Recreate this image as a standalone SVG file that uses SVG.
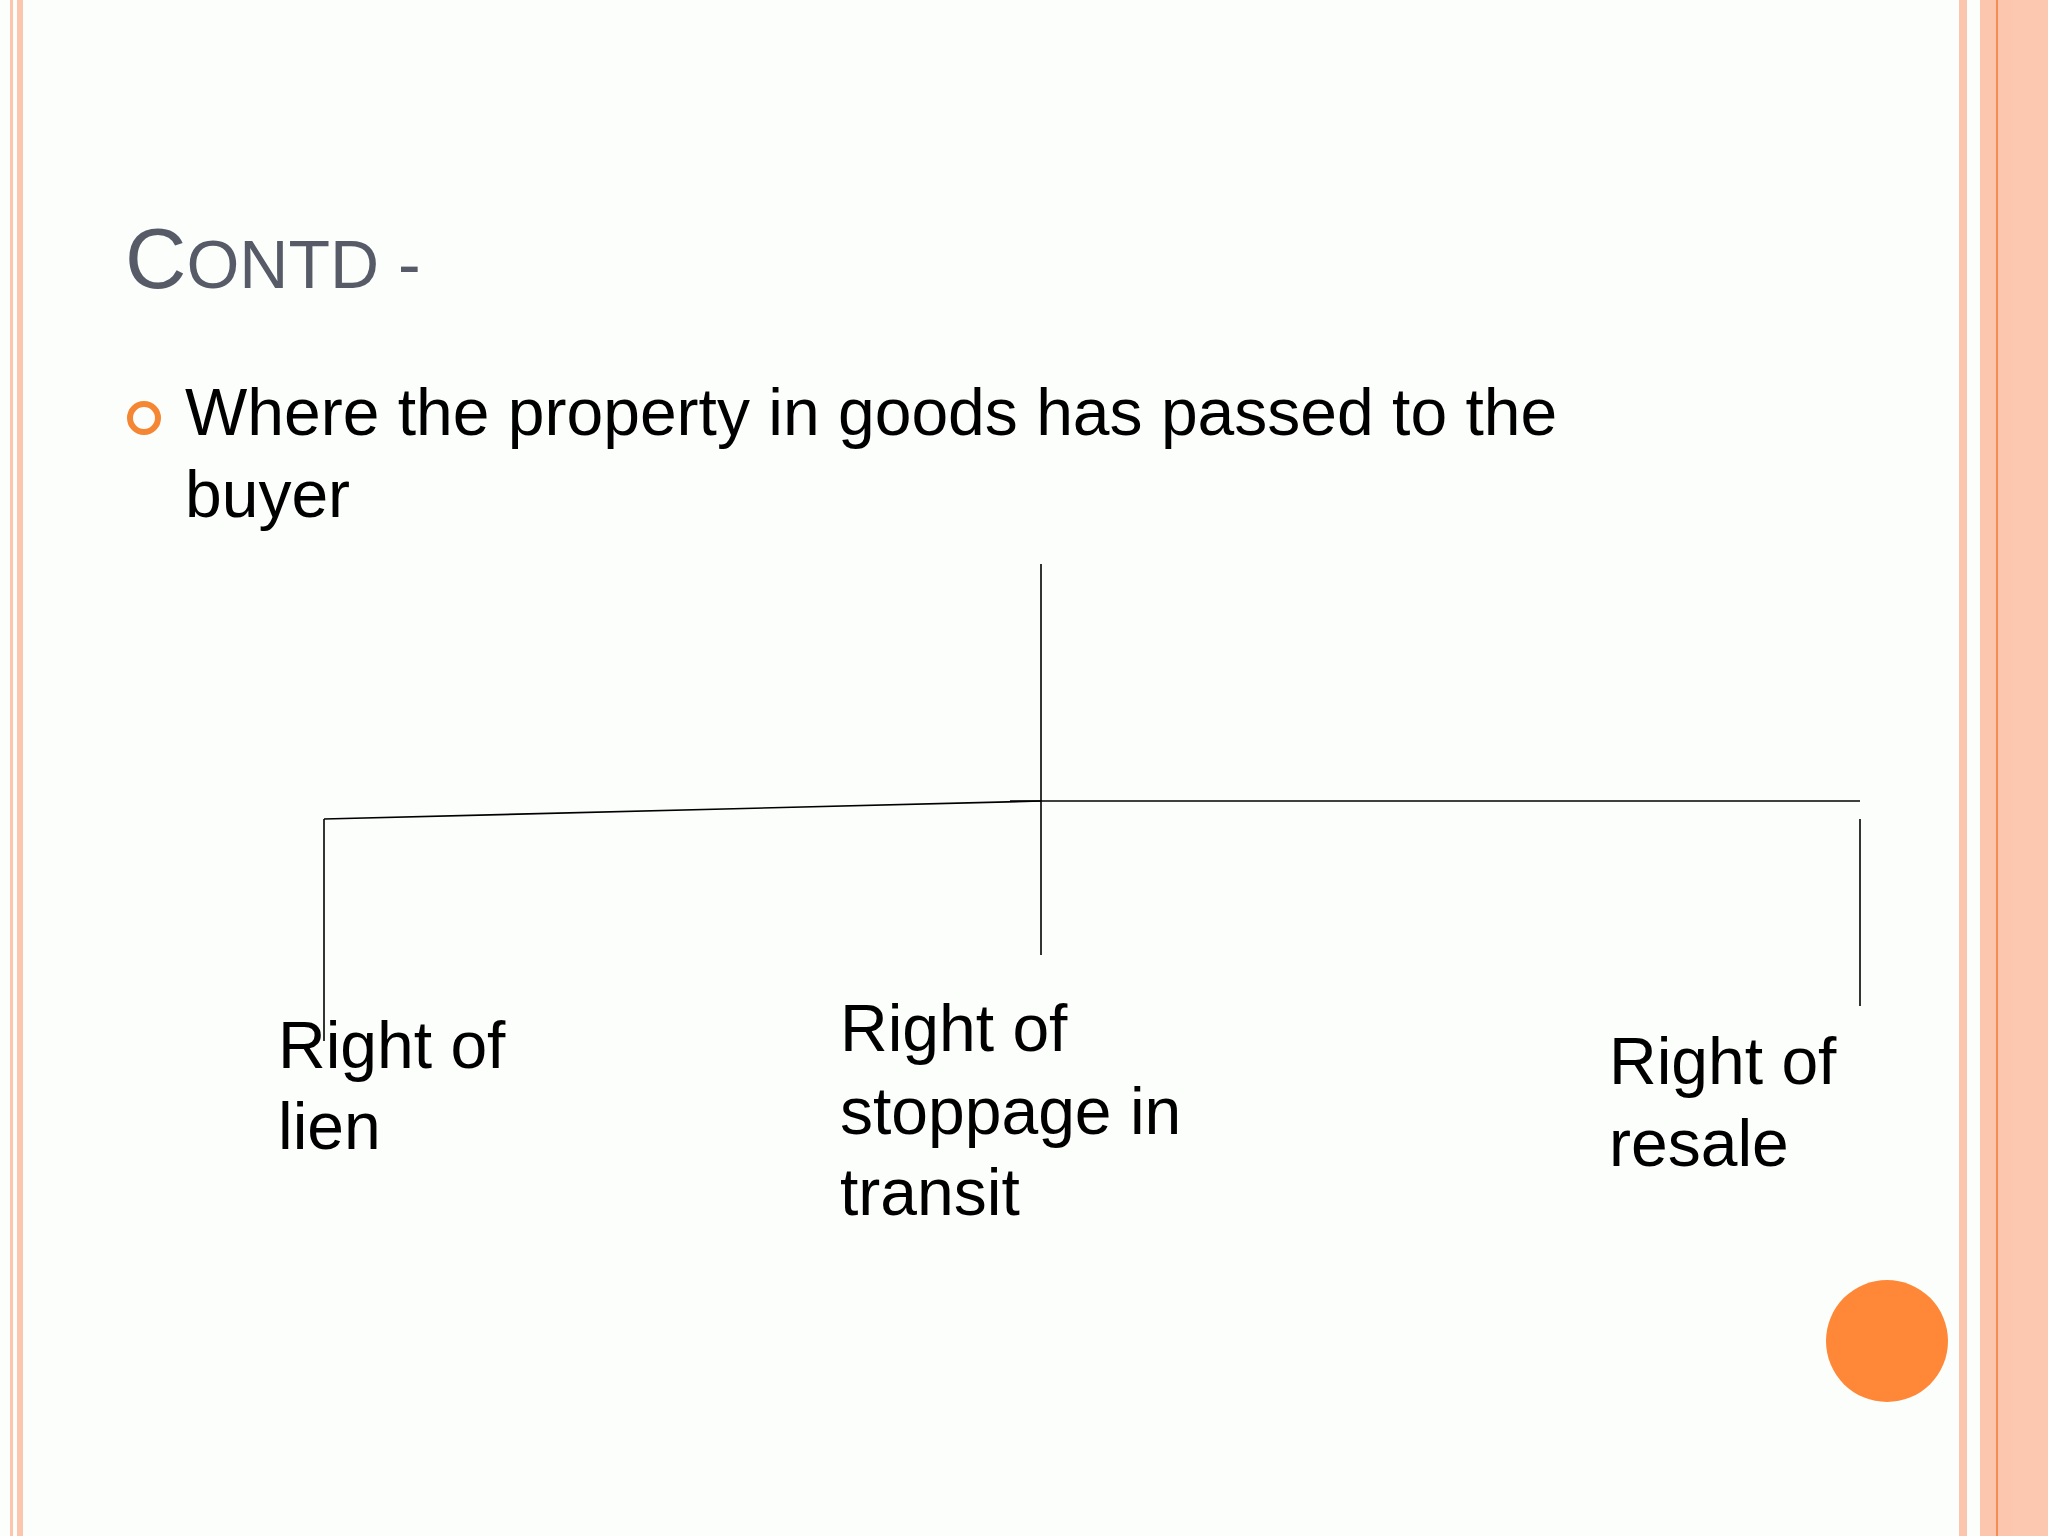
<svg xmlns="http://www.w3.org/2000/svg" width="2048" height="1536" viewBox="0 0 2048 1536">
<style>
.t{font-family:"Liberation Sans",Arial,sans-serif;fill:#000;font-size:66px}
.c{stroke:#000;stroke-width:1.6;fill:none}
.b{fill:#FBC5AE}
</style>
<rect width="2048" height="1536" fill="#FCFEFC"/>
<rect class="b" x="10" y="0" width="3" height="1536"/>
<rect class="b" x="17" y="0" width="6" height="1536"/>
<rect class="b" x="1959" y="0" width="8" height="1536"/>
<rect class="b" x="1980" y="0" width="68" height="1536"/>
<rect x="1996" y="0" width="2" height="1536" fill="#F58B55"/>
<rect x="2012" y="0" width="36" height="1536" fill="#FCC8B0"/>
<g id="title"><text x="125" y="288" font-family="Liberation Sans,Arial,sans-serif" font-size="85" fill="#575B67">C<tspan font-size="68">ONTD -</tspan></text></g>
<g id="bullet">
<circle cx="144" cy="418" r="14" fill="none" stroke="#F58634" stroke-width="6"/>
<text class="t" x="185" y="435">Where the property in goods has passed to the</text>
<text class="t" x="185" y="517">buyer</text>
</g>
<g id="connectors">
<line class="c" x1="1041" y1="564" x2="1041" y2="955"/>
<line class="c" x1="324" y1="819" x2="1041" y2="801"/>
<line class="c" x1="1010" y1="801" x2="1860" y2="801"/>
<line class="c" x1="324" y1="819" x2="324" y2="1041"/>
<line class="c" x1="1860" y1="819" x2="1860" y2="1006"/>
</g>
<g id="lien"><text class="t" x="278" y="1068">Right of</text><text class="t" x="278" y="1149">lien</text></g>
<g id="stoppage"><text class="t" x="840" y="1051">Right of</text><text class="t" x="840" y="1134">stoppage in</text><text class="t" x="840" y="1215">transit</text></g>
<g id="resale"><text class="t" x="1609" y="1084">Right of</text><text class="t" x="1609" y="1166">resale</text></g>
<circle cx="1887" cy="1341" r="61" fill="#FF8838"/>
</svg>
